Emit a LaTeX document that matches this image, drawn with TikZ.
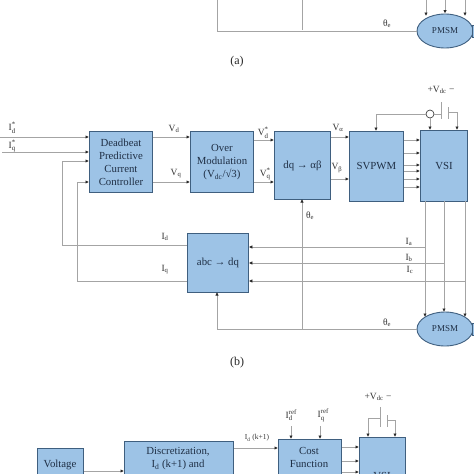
\documentclass[tikz,border=0pt]{standalone}
\usepackage{fontspec}
\setmainfont{Liberation Serif}
\usetikzlibrary{arrows.meta,shapes.geometric}
\definecolor{boxfill}{HTML}{9DC3E6}
\definecolor{boxedge}{HTML}{3F5F7F}
\definecolor{wire}{HTML}{A4A4A4}
\definecolor{txt}{HTML}{1F2F45}
\newcommand{\subup}[3]{#1\rlap{\raisebox{-0.28em}{\scalebox{0.72}{#2}}}\raisebox{0.42em}{\scalebox{0.72}{#3}}}
\tikzset{
  x=1pt,y=-1pt,
  blk/.style={draw=boxedge,line width=0.9pt,fill=boxfill,text=txt,align=center,font=\fontsize{10.8}{13}\selectfont,inner sep=0pt,anchor=north west},
  btext/.style={text=txt,align=center,font=\fontsize{10.8}{13}\selectfont,inner sep=0pt},
  motor/.style={ellipse,draw=boxedge,line width=0.9pt,fill=boxfill,text=txt,font=\fontsize{9}{11}\selectfont,inner sep=0pt,minimum width=56pt,minimum height=34pt},
  stub/.style={draw=boxedge,fill=boxfill,minimum width=4pt,minimum height=12pt,inner sep=0pt},
  wl/.style={draw=wire,line width=1pt},
  ar/.style={wl,-{Latex[length=3.5pt,width=3.5pt,color=black!85]}},
  lab/.style={text=black!80,font=\fontsize{9.5}{11}\selectfont,inner sep=0pt},
  captext/.style={text=black!85,font=\fontsize{12}{14}\selectfont,inner sep=0pt},
  plate/.style={draw=wire,line width=1pt}
}
\begin{document}
\begin{tikzpicture}
\useasboundingbox (0,0) rectangle (474,474);
\begin{scope}
\clip (0,0) rectangle (474,474);
% ---- part (a) remainder
\node[motor] (pa) at (445,31) {PMSM};
\node[stub] (sa) at (474,31) {};
\coordinate (a1) at (217,0); \coordinate (a2) at (302,0);
\coordinate (a3) at (426,0); \coordinate (a4) at (445,0); \coordinate (a5) at (465,0);
\draw[wl] (a1) |- (pa.west);
\draw[wl] (a2) -- (302,30);
\draw[ar] (a3) -- (426,16);
\draw[ar] (a4) -- (pa.north);
\draw[ar] (a5) -- (465,16);
\node[lab] at (387,24) {θ\textsubscript{e}};
\node[captext] (ca) at (237,62) {(a)};
% ---- part (b)
\node[blk,minimum width=63pt,minimum height=61pt] (dpc) at (89,131) {Deadbeat\\Predictive\\Current\\Controller};
\node[blk,minimum width=63pt,minimum height=61pt] (om) at (190,131) {Over\\Modulation\\(V\textsubscript{dc}/√3)};
\node[blk,minimum width=56pt,minimum height=68pt] (dq) at (274,131) {dq → αβ};
\node[blk,minimum width=54pt,minimum height=70pt] (sv) at (349,131) {SVPWM};
\node[blk,minimum width=47pt,minimum height=71pt] (vsi) at (420,130) {VSI};
\node[blk,minimum width=61pt,minimum height=59pt] (abc) at (187,233) {abc → dq};
\node[motor] (pb) at (445,329) {PMSM};
\node[stub] (sb) at (474,329) {};
\coordinate (i1) at (0,137); \coordinate (i2) at (2,152);
\draw[ar] (i1) -- (dpc.west |- i1);
\draw[ar] (i2) -- (dpc.west |- i2);
\draw[ar] (abc.west |- 0,245) -| (62,161) -- (dpc.west |- 0,161);
\draw[ar] (abc.west |- 0,281) -| (77,182) -- (dpc.west |- 0,182);
\node[lab] at (12,128) {\subup{I}{d}{*}};
\node[lab] at (12,146) {\subup{I}{q}{*}};
\draw[ar] (dpc.east |- 0,137) -- (om.west |- 0,137);
\draw[ar] (dpc.east |- 0,182) -- (om.west |- 0,182);
\node[lab] at (174,129) {V\textsubscript{d}};
\node[lab] at (176,174) {V\textsubscript{q}};
\draw[ar] (om.east |- 0,140) -- (dq.west |- 0,140);
\draw[ar] (om.east |- 0,182) -- (dq.west |- 0,182);
\node[lab] at (263,133) {\subup{V}{d}{*}};
\node[lab] at (265,174) {\subup{V}{q}{*}};
\draw[ar] (dq.east |- 0,137) -- (sv.west |- 0,137);
\draw[ar] (dq.east |- 0,179) -- (sv.west |- 0,179);
\node[lab] at (338,128) {V\textsubscript{α}};
\node[lab] at (337,168) {V\textsubscript{β}};
\foreach \y in {140,153,165,171,179,187} \draw[ar] (sv.east |- 0,\y) -- (vsi.west |- 0,\y);
% theta
\draw[ar] (pb.west) -- (217,329) -- (217,292);
\draw[ar] (302,329) -- (302,199);
\node[lab] at (310,216) {θ\textsubscript{e}};
\node[lab] at (387,323) {θ\textsubscript{e}};
% VSI to motor
\draw[ar] (425,201) -- (425,317);
\draw[ar] (444,201) -- (444,312);
\draw[ar] (465,201) -- (465,317);
\draw[ar] (425,247) -- (abc.east |- 0,247);
\draw[ar] (444,263) -- (abc.east |- 0,263);
\draw[ar] (465,281) -- (abc.east |- 0,281);
\node[lab] at (409,242) {I\textsubscript{a}};
\node[lab] at (409,258) {I\textsubscript{b}};
\node[lab] at (410,270) {I\textsubscript{c}};
\node[lab] at (165,237) {I\textsubscript{d}};
\node[lab] at (165,270) {I\textsubscript{q}};
% DC link
\node[draw=black!75,line width=0.7pt,circle,minimum size=8pt,inner sep=0pt] (cs) at (430,114) {};
\draw[ar] (cs.west) -- (376,114) -- (376,131);
\draw[ar] (cs.south) -- (430,130);
\draw[wl] (cs.east) -- (441,114);
\draw[plate] (441,102) -- (441,119);
\draw[plate] (448,107) -- (448,119);
\draw[ar] (448,112) -- (457,112) -- (457,130);
\node[lab] at (441,90) {+V\textsubscript{dc} −};
\node[captext] (cb) at (237,363) {(b)};
% ---- part (c)
\node[blk,minimum width=46pt,minimum height=60pt] (vm) at (37,448) {};
\node[btext] at (60,465) {Voltage};
\node[blk,minimum width=109pt,minimum height=60pt] (dis) at (124,441) {};
\node[btext] at (178,452) {Discretization,};
\node[btext] at (178,465) {I\textsubscript{d} (k+1) and};
\node[blk,minimum width=63pt,minimum height=60pt] (cf) at (278,439) {};
\node[btext] at (309,451) {Cost};
\node[btext] at (309,464) {Function};
\node[blk,minimum width=46pt,minimum height=60pt] (vc) at (359,437) {};
\node[btext] at (382,476) {VSI};
\draw[ar] (vm.east |- 0,471) -- (dis.west |- 0,471);
\draw[ar] (dis.east |- 0,448) -- (cf.west |- 0,448);
\node[lab,font=\fontsize{7.5}{9}\selectfont] at (257,438) {I\textsubscript{d} (k+1)};
\coordinate (r1) at (291,426); \coordinate (r2) at (320,426);
\draw[ar] (r1) -- (cf.north -| r1);
\draw[ar] (r2) -- (cf.north -| r2);
\node[lab] at (291,415) {\subup{I}{d}{ref}};
\node[lab] at (323,415) {\subup{I}{q}{ref}};
\foreach \y in {447,461,472} \draw[ar] (cf.east |- 0,\y) -- (vc.west |- 0,\y);
\draw[plate] (380,407) -- (380,427);
\draw[plate] (387,415) -- (387,427);
\draw[ar] (380,418) -- (368,418) -- (368,437);
\draw[ar] (387,420) -- (395,420) -- (395,437);
\node[lab] at (378,397) {+V\textsubscript{dc} −};
\end{scope}
\end{tikzpicture}
\end{document}
